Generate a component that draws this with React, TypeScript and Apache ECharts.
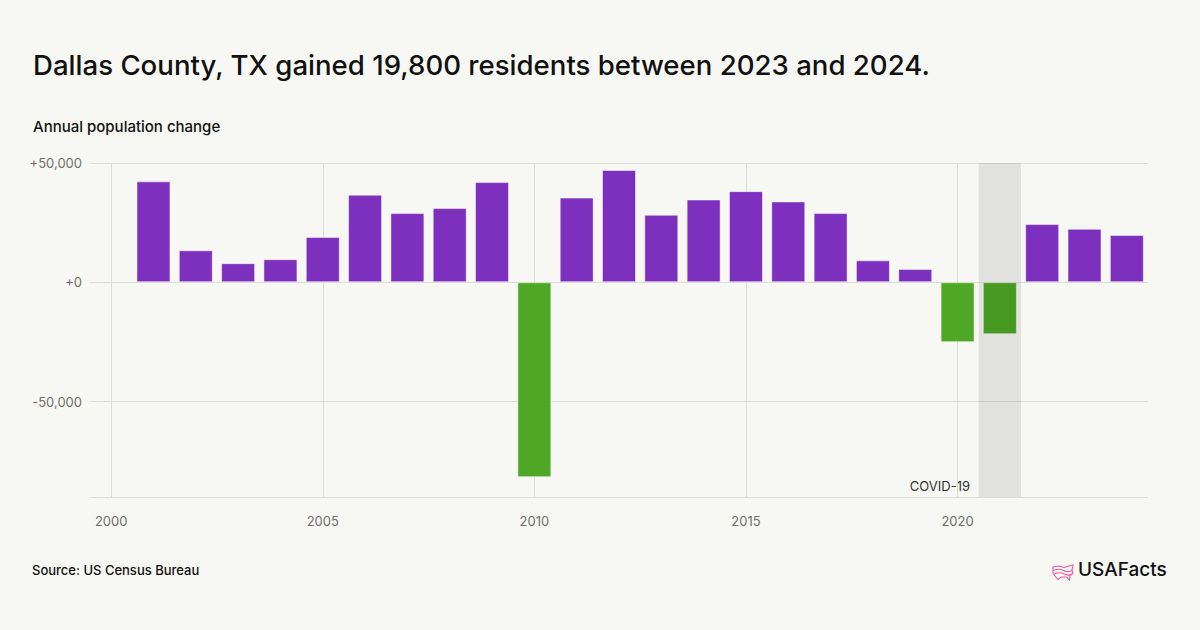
import React, { useEffect, useRef } from "react";
import * as echarts from "echarts";

// Annual population change, Dallas County, TX
const years = [
  "2000", "2001", "2002", "2003", "2004", "2005", "2006", "2007", "2008", "2009",
  "2010", "2011", "2012", "2013", "2014", "2015", "2016", "2017", "2018", "2019",
  "2020", "2021", "2022", "2023", "2024",
];
const changes: (number | null)[] = [
  null, 42300, 13400, 8000, 9700, 19000, 36700, 29000, 31100, 42000,
  -81700, 35500, 47100, 28300, 34700, 38200, 33900, 29000, 9200, 5600,
  -25100, -21800, 24400, 22400, 19800,
];
const yTicks = [50000, 0, -50000];
const xTickYears = ["2000", "2005", "2010", "2015", "2020"];
const covidYear = "2021";
const yMin = -90000;
const yMax = 50000;

const FONT = 'Inter, "Noto Sans", sans-serif';
const PURPLE = "#7d2fbe";
const GREEN = "#4fa825";
const GRID = "#dddcd7";
const BG = "#f7f7f3";

const fmtTick = (v: number) =>
  v >= 0 ? "+" + v.toLocaleString("en-US") : "-" + Math.abs(v).toLocaleString("en-US");

// small outline of the US used in the brand mark
const usMapPath =
  "M1 3 L7 2 L12 3.5 L17 2 L21 1 L20 6 L21 9.5 L18 11.5 L17.5 16 L14.5 13 L9 13 L6 15.5 L3 12 L1 8.5 Z " +
  "M1.5 6.5 Q6.5 4 11.5 6.5 T20.5 6 M2.5 10 Q7.5 7.5 12.5 10 T20 9.5";

export default function App() {
  const ref = useRef<HTMLDivElement>(null);

  useEffect(() => {
    if (!ref.current) return;
    echarts.graphic.registerShape("usmap", echarts.graphic.extendPath(usMapPath, {}) as any);
    const chart = echarts.init(ref.current, null, { renderer: "svg" });

    const option: any = {
      animation: false,
      backgroundColor: BG,
      grid: { left: 90, right: 52, top: 163, bottom: 133 },
      xAxis: {
        type: "category",
        data: years,
        boundaryGap: true,
        axisLine: { onZero: false, lineStyle: { color: GRID, width: 1 } },
        axisTick: { show: false },
        axisLabel: { interval: 4, margin: 17, color: "#6f6f6b", fontSize: 13, fontFamily: FONT },
        splitLine: { show: false },
        z: 0,
      },
      yAxis: {
        type: "value",
        min: yMin,
        max: yMax,
        axisLine: { show: false },
        axisTick: { show: false },
        axisLabel: { show: false },
        splitLine: { show: false },
      },
      series: [
        {
          // gridlines and y-axis tick labels
          type: "line",
          data: [],
          z: 1,
          silent: true,
          markLine: {
            z: 1,
            silent: true,
            symbol: ["none", "none"],
            lineStyle: { color: GRID, width: 1, type: "solid" },
            emphasis: { disabled: true },
            data: [
              ...yTicks.map((v) => ({
                yAxis: v,
                label: {
                  show: true,
                  position: "start",
                  distance: 8,
                  formatter: fmtTick(v),
                  color: "#6f6f6b",
                  fontSize: 13,
                  fontFamily: FONT,
                },
              })),
              ...xTickYears.map((y) => ({ xAxis: y, label: { show: false } })),
            ],
          },
        },
        {
          type: "bar",
          data: changes,
          barWidth: 34,
          z: 3,
          silent: true,
          itemStyle: {
            color: (p: any) => (p.value >= 0 ? PURPLE : GREEN),
            borderColor: "rgba(255,255,255,0.5)",
            borderWidth: 1,
          },
        },
        {
          // shaded COVID-19 year
          type: "custom",
          z: 5,
          silent: true,
          data: [[covidYear]],
          encode: { x: 0 },
          renderItem: (params: any, api: any) => {
            const x = api.value(0);
            const top = api.coord([x, yMax]);
            const bot = api.coord([x, yMin]);
            const w = api.size([1, 0])[0];
            return {
              type: "rect",
              shape: { x: top[0] - w / 2, y: top[1], width: w, height: bot[1] - top[1] },
              style: { fill: "rgba(0,0,0,0.085)" },
            };
          },
        },
      ],
      graphic: [
        {
          type: "text",
          left: 33,
          top: 51,
          style: {
            text: "Dallas County, TX gained 19,800 residents between 2023 and 2024.",
            font: `500 27.6px ${FONT}`,
            fill: "#111",
          },
        },
        {
          type: "text",
          left: 33,
          top: 119,
          style: { text: "Annual population change", font: `500 15px ${FONT}`, fill: "#111" },
        },
        {
          type: "text",
          x: 970,
          y: 486,
          style: {
            text: "COVID-19",
            font: `400 13px ${FONT}`,
            fill: "#333",
            align: "right",
            verticalAlign: "middle",
          },
        },
        {
          type: "text",
          left: 32,
          top: 563,
          style: { text: "Source: US Census Bureau", font: `500 13px ${FONT}`, fill: "#111" },
        },
        {
          type: "usmap",
          x: 1052,
          y: 564,
          style: { fill: "none", stroke: "#ec5ba3", lineWidth: 1.1 },
        },
        {
          type: "text",
          left: 1078,
          top: 560,
          style: { text: "USAFacts", font: `500 19px ${FONT}`, fill: "#111" },
        },
      ],
    };

    chart.setOption(option);
    return () => chart.dispose();
  }, []);

  return (
    <div
      ref={ref}
      style={{ position: "absolute", left: 0, top: 0, width: 1200, height: 630 }}
    />
  );
}
